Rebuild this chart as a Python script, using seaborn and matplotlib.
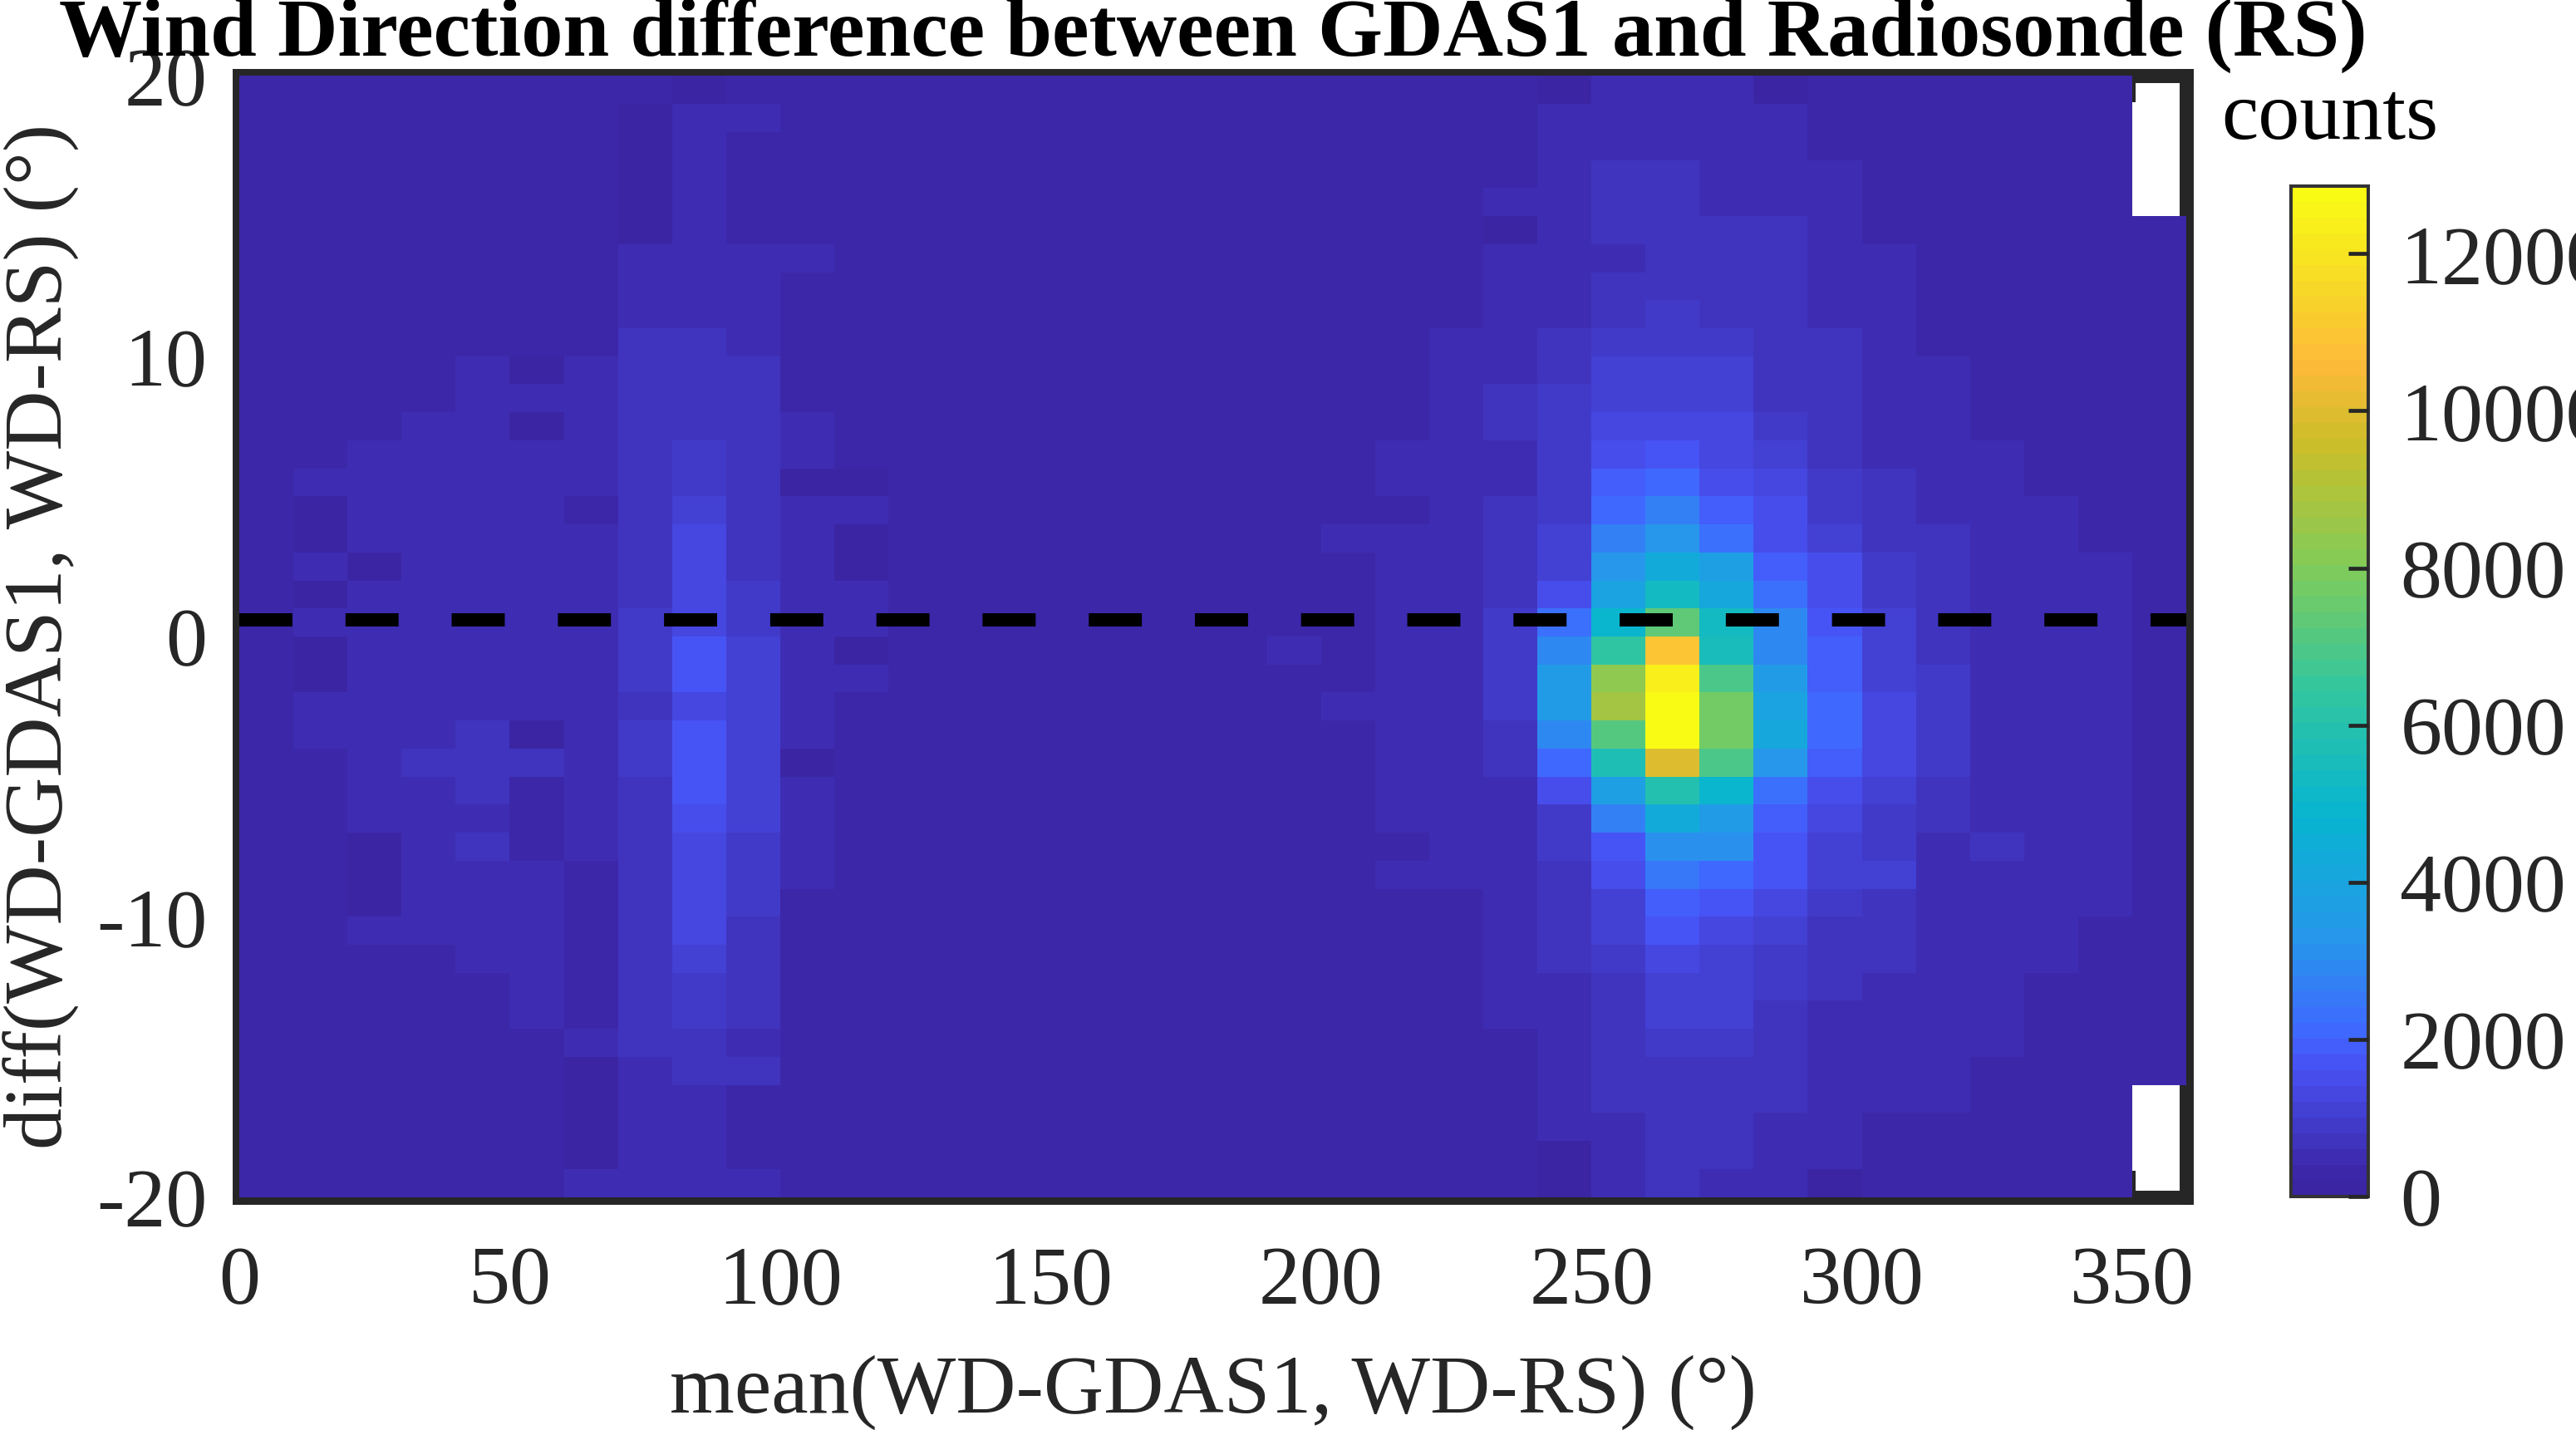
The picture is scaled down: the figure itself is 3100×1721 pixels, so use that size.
import numpy as np
import pandas as pd
import seaborn as sns
import matplotlib.pyplot as plt
from matplotlib.colors import LinearSegmentedColormap

nan = np.nan

# bin labels, 10 deg wide in x, 1 deg high in y (top row first)
x_bins = list(range(0, 360, 10))
y_bins = list(range(19, -21, -1))
x_ticks = [0, 50, 100, 150, 200, 250, 300, 350]
y_ticks = [20, 10, 0, -10, -20]
cbar_ticks = [0, 2000, 4000, 6000, 8000, 10000, 12000]
mean_diff = 0.6

# counts, columns 0-110 deg
counts_a = [
    [300,300,300,300,300,300,300,300,100,300,300,300],
    [300,300,300,300,300,300,300,100,500,500,300,300],
    [300,300,300,300,300,300,300,100,500,300,300,300],
    [300,300,300,300,300,300,300,100,500,300,300,300],
    [300,300,300,300,300,300,300,100,500,300,300,300],
    [300,300,300,300,300,300,300,100,500,300,300,300],
    [300,300,300,300,300,300,300,500,500,500,500,300],
    [300,300,300,300,300,300,300,500,600,500,300,300],
    [300,300,300,300,300,300,300,500,600,500,300,300],
    [300,300,300,300,300,300,300,700,700,500,300,300],
    [300,300,300,300,500,100,500,700,700,700,300,300],
    [300,300,300,300,500,500,500,700,700,700,300,300],
    [300,300,300,500,500,100,500,700,700,700,500,300],
    [300,300,500,500,500,500,500,700,900,700,500,300],
    [300,500,500,500,500,500,500,700,1000,800,100,100],
    [300,100,500,500,500,500,300,700,1200,800,500,500],
    [300,100,500,500,500,500,500,700,1400,800,500,100],
    [300,500,100,500,500,500,500,700,1400,800,500,100],
    [300,100,500,500,500,500,500,700,1400,1000,500,500],
    [300,500,500,500,500,500,500,1000,1400,1000,500,500],
    [300,100,500,500,500,500,500,1000,1700,1100,500,100],
    [300,100,500,500,500,500,500,1000,1700,1100,500,500],
    [300,500,500,500,500,500,500,700,1400,1100,500,300],
    [300,500,500,500,700,100,500,1000,1700,1200,500,300],
    [300,300,500,700,700,700,500,1000,1700,1200,100,300],
    [300,300,500,500,700,300,500,700,1700,1200,500,300],
    [300,300,500,500,500,300,500,700,1500,1100,500,300],
    [300,300,100,500,700,300,500,700,1400,1000,500,300],
    [300,300,100,500,500,500,300,700,1400,1000,500,300],
    [300,300,100,500,500,500,300,700,1400,1000,300,300],
    [300,300,500,500,500,500,300,700,1300,700,300,300],
    [300,300,300,300,500,500,300,700,1100,700,300,300],
    [300,300,300,300,300,500,300,700,900,700,300,300],
    [300,300,300,300,300,500,300,700,900,700,300,300],
    [300,300,300,300,300,300,500,700,700,600,300,300],
    [300,300,300,300,300,300,100,500,700,700,300,300],
    [300,300,300,300,300,300,100,500,600,400,300,300],
    [300,300,300,300,300,300,100,500,600,400,300,300],
    [300,300,300,300,300,300,100,500,500,400,300,300],
    [300,300,300,300,300,300,500,500,500,500,300,300],
]

# columns 120-210 deg
counts_b = [
    [300,300,300,300,300,300,300,300,300,300],
    [300,300,300,300,300,300,300,300,300,300],
    [300,300,300,300,300,300,300,300,300,300],
    [300,300,300,300,300,300,300,300,300,300],
    [300,300,300,300,300,300,300,300,300,300],
    [300,300,300,300,300,300,300,300,300,300],
    [300,300,300,300,300,300,300,300,300,300],
    [300,300,300,300,300,300,300,300,300,300],
    [300,300,300,300,300,300,300,300,300,300],
    [300,300,300,300,300,300,300,300,300,300],
    [300,300,300,300,300,300,300,300,300,300],
    [300,300,300,300,300,300,300,300,300,300],
    [300,300,300,300,300,300,300,300,300,300],
    [300,300,300,300,300,300,300,300,300,500],
    [300,300,300,300,300,300,300,300,300,500],
    [300,300,300,300,300,300,300,300,300,300],
    [300,300,300,300,300,300,300,300,500,500],
    [300,300,300,300,300,300,300,300,300,500],
    [300,300,300,300,300,300,300,300,300,500],
    [300,300,300,300,300,300,300,300,300,500],
    [300,300,300,300,300,300,300,500,300,500],
    [300,300,300,300,300,300,300,300,300,500],
    [300,300,300,300,300,300,300,300,500,500],
    [300,300,300,300,300,300,300,300,300,500],
    [300,300,300,300,300,300,300,300,300,500],
    [300,300,300,300,300,300,300,300,300,500],
    [300,300,300,300,300,300,300,300,300,500],
    [300,300,300,300,300,300,300,300,300,300],
    [300,300,300,300,300,300,300,300,300,500],
    [300,300,300,300,300,300,300,300,300,300],
    [300,300,300,300,300,300,300,300,300,300],
    [300,300,300,300,300,300,300,300,300,300],
    [300,300,300,300,300,300,300,300,300,300],
    [300,300,300,300,300,300,300,300,300,300],
    [300,300,300,300,300,300,300,300,300,300],
    [300,300,300,300,300,300,300,300,300,300],
    [300,300,300,300,300,300,300,300,300,300],
    [300,300,300,300,300,300,300,300,300,300],
    [300,300,300,300,300,300,300,300,300,300],
    [300,300,300,300,300,300,300,300,300,300],
]

# columns 220-350 deg
counts_c = [
    [300,300,100,500,500,500,100,300,300,300,300,300,300,nan],
    [300,300,500,500,500,500,500,300,300,300,300,300,300,nan],
    [300,300,500,500,500,500,500,300,300,300,300,300,300,nan],
    [300,300,500,700,700,500,500,500,300,300,300,300,300,nan],
    [300,500,500,700,700,500,500,500,300,300,300,300,300,nan],
    [300,100,500,700,700,700,700,500,300,300,300,300,300,300],
    [300,500,500,500,700,700,700,500,500,300,300,300,300,300],
    [300,500,500,700,700,700,700,500,500,300,300,300,300,300],
    [300,500,500,700,900,700,700,500,500,300,300,300,300,300],
    [500,500,700,1000,1000,1000,700,700,500,300,300,300,300,300],
    [500,500,700,1100,1100,1100,800,700,500,500,300,300,300,300],
    [500,700,900,1200,1200,1100,800,700,500,500,300,300,300,300],
    [500,700,900,1400,1400,1300,1000,700,500,500,300,300,300,300],
    [500,500,900,1600,1700,1300,1200,700,600,500,500,300,300,300],
    [500,500,1000,2000,2200,1600,1300,1000,800,500,500,300,300,300],
    [500,700,1000,2200,2800,1900,1500,1000,800,500,500,500,300,300],
    [500,700,1100,2700,3300,2300,1600,1100,800,700,500,500,300,300],
    [500,700,1200,3400,4300,3700,2000,1500,1000,800,500,500,500,300],
    [600,700,1500,4000,5400,4100,2400,1600,1000,800,500,500,500,300],
    [600,1000,2300,5000,7400,5300,2900,1800,1100,800,500,500,500,300],
    [600,900,3000,6400,10900,5600,3000,1900,1200,700,600,500,500,300],
    [600,900,3500,8400,12300,6900,3500,2000,1200,900,600,500,500,300],
    [600,1000,3600,8800,12900,7800,3900,2100,1300,900,600,500,500,300],
    [600,700,2900,7100,12900,7700,4100,2100,1400,900,600,500,500,300],
    [600,700,2200,5700,9900,6900,3300,2000,1400,900,600,600,500,300],
    [500,600,1500,3700,6000,5000,2400,1500,1100,800,600,500,500,300],
    [500,600,1000,2700,4300,3600,1900,1300,1000,700,600,500,500,300],
    [500,600,1000,1800,3100,3100,1800,1200,1000,600,700,600,500,300],
    [500,500,800,1500,2500,2200,1800,1200,1100,600,500,500,500,300],
    [300,500,700,1100,2000,1700,1400,1000,800,600,500,500,500,300],
    [300,500,800,1100,1800,1300,1100,800,700,600,500,500,300,300],
    [300,500,700,1000,1400,1200,1000,800,700,500,500,500,300,300],
    [300,500,500,800,1200,1100,1000,700,500,500,500,300,300,300],
    [300,500,500,800,1100,1100,800,500,500,500,500,300,300,300],
    [300,300,500,800,1000,1000,700,500,500,500,500,300,300,300],
    [300,300,500,700,800,800,700,500,500,500,300,300,300,300],
    [300,300,500,700,800,700,700,500,500,500,300,300,300,nan],
    [300,300,500,500,700,700,500,500,300,300,300,300,300,nan],
    [300,300,100,500,700,700,500,500,300,300,300,300,300,nan],
    [300,300,100,500,700,500,500,100,300,300,300,300,300,nan],
]

sns.set_style("white")
plt.rcParams['font.family'] = ['Liberation Serif', 'DejaVu Serif']

W, H = 3100, 1721
ink = '#262626'

# parula, 64 steps like the matlab default
parula = LinearSegmentedColormap.from_list('parula', [
    (0.000, (0.232, 0.145, 0.640)),
    (0.016, (0.2365, 0.153, 0.660)),
    (0.125, (0.281, 0.323, 0.958)),
    (0.160, (0.245, 0.410, 1.000)),
    (0.250, (0.154, 0.590, 0.922)),
    (0.375, (0.030, 0.708, 0.816)),
    (0.500, (0.194, 0.776, 0.625)),
    (0.625, (0.504, 0.799, 0.348)),
    (0.750, (0.800, 0.745, 0.160)),
    (0.830, (0.995, 0.730, 0.225)),
    (0.900, (0.970, 0.840, 0.160)),
    (1.000, (0.977, 0.984, 0.080)),
], N=64)

table = pd.DataFrame(np.hstack([counts_a, counts_b, counts_c]), index=y_bins, columns=x_bins)

fig = plt.figure(figsize=(W / 100, H / 100), dpi=100)
ax = fig.add_axes([288 / W, 1 - 1440.5 / H, (2631 - 288) / W, (1440.5 - 91.5) / H])
cax = fig.add_axes([2757 / W, 1 - 1440 / H, (2849.5 - 2757) / W, (1440 - 224) / H])

sns.heatmap(table, ax=ax, cbar_ax=cax, cmap=parula, vmin=0, vmax=12860,
            xticklabels=False, yticklabels=False,
            cbar_kws={'ticks': cbar_ticks})
ax.set_facecolor('white')

# heatmap axes run in cell numbers, so map degrees on to them
ax.set_xticks([v / 10 for v in x_ticks])
ax.set_xticklabels(x_ticks, rotation=0)
ax.set_yticks([20 - v for v in y_ticks])
ax.set_yticklabels(y_ticks, rotation=0)

ax.set_axisbelow(True)
ax.tick_params(axis='both', direction='in', length=23, width=5.8, color=ink, labelsize=72,
               labelcolor=ink, top=True, right=True, bottom=True, left=True)
ax.tick_params(axis='x', pad=42)
ax.tick_params(axis='y', pad=28)
for side in ax.spines:
    ax.spines[side].set_visible(True)
    ax.spines[side].set_linewidth(12.2)
    ax.spines[side].set_color(ink)
    ax.spines[side].set_zorder(0.5)

ax.axhline(20 - mean_diff, color='black', lw=11.5, ls=(0, (4, 4)), dash_capstyle='butt')

ax.set_xlabel('mean(WD-GDAS1, WD-RS) (°)', fontsize=72, color=ink, labelpad=30)
ax.set_ylabel('diff(WD-GDAS1, WD-RS) (°)', fontsize=72, color=ink, labelpad=14)
ax.set_title('Wind Direction difference between GDAS1 and Radiosonde (RS)',
             fontsize=72.2, fontweight='bold', color='black', pad=17)

cbar = ax.collections[0].colorbar
cbar.outline.set_visible(True)
cbar.outline.set_linewidth(2.9)
cbar.outline.set_edgecolor('#333333')
cax.set_axisbelow(False)
cax.tick_params(direction='in', length=17, width=3.4, color=ink, labelsize=72, labelcolor=ink, pad=28)
fig.text(2673 / W, 1 - 167 / H, 'counts', fontsize=72, color='black', va='baseline')

fig.savefig('out.png', dpi=100)
